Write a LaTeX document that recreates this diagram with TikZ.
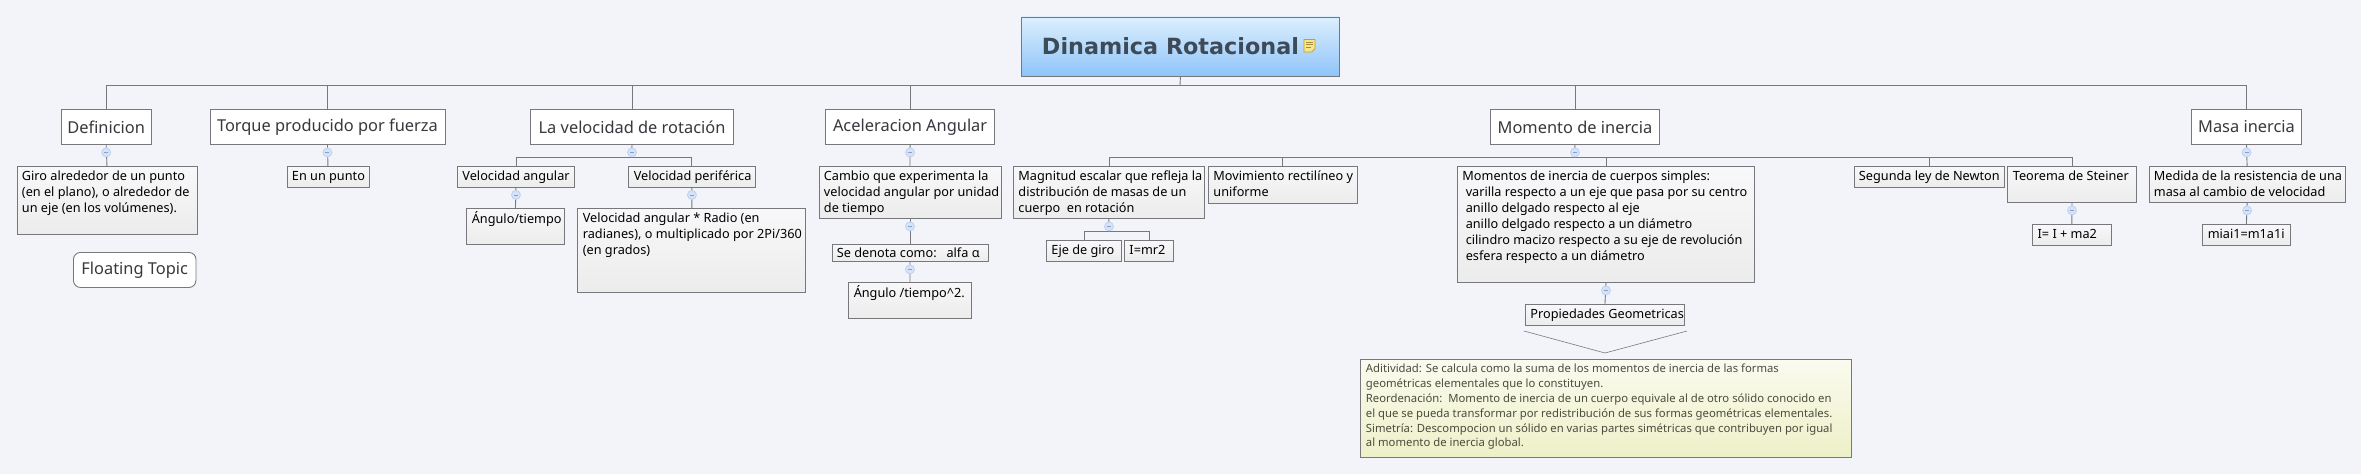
\documentclass[tikz,border=0pt]{standalone}
\usepackage{fontspec}
\setmainfont{Noto Sans}
\newfontfamily\rootfont{DejaVu Sans}
\definecolor{bgmap}{HTML}{F3F4F9}
\definecolor{linemap}{HTML}{77787C}
\definecolor{inktopic}{HTML}{36393D}
\definecolor{inkroot}{HTML}{3D4A58}
\definecolor{inknote}{HTML}{4A4B3C}
\definecolor{rootA}{HTML}{DDEFFD}
\definecolor{rootB}{HTML}{8FC4F9}
\definecolor{subA}{HTML}{F8F8FA}
\definecolor{subB}{HTML}{ECECEC}
\definecolor{noteA}{HTML}{FAFBEF}
\definecolor{noteB}{HTML}{EEF0C8}
\definecolor{markA}{HTML}{BDD2F2}
\definecolor{markB}{HTML}{D5E2F8}
\definecolor{markC}{HTML}{8AA0C0}
\definecolor{iconA}{HTML}{F6E68C}
\definecolor{iconB}{HTML}{C69A2E}
\definecolor{iconC}{HTML}{A98A3A}
\newcommand{\boxtxt}[3]{\parbox[c][#2pt][t]{\dimexpr#1pt-10pt\relax}{\vskip 3pt\raggedright\rightskip=-20pt plus 1fil\relax\strut #3\strut}}
\tikzset{
	rootbox/.style={draw=linemap,line width=.9pt,top color=rootA,bottom color=rootB,anchor=north west,inner sep=0pt,text=inkroot,font=\rootfont\fontsize{22.3}{28}\selectfont\bfseries},
	topicbox/.style={draw=linemap,line width=.9pt,fill=white,anchor=north west,inner sep=0pt,minimum height=35pt,text=inktopic,font=\fontsize{16.4}{18}\selectfont},
	floatbox/.style={topicbox,rounded corners=7pt},
	subbox/.style={draw=linemap,line width=.9pt,top color=subA,bottom color=subB,anchor=north west,inner xsep=5pt,inner ysep=0pt,text=black,font=\fontsize{12.7}{16}\selectfont},
	notebox/.style={subbox,top color=noteA,bottom color=noteB,text=inknote,inner xsep=5.5pt,font=\fontsize{11.3}{14.8}\selectfont},
	conn/.style={draw=linemap,line width=.9pt},
	collapse/.style={circle,draw=markA,fill=markB,line width=.8pt,minimum size=9pt,inner sep=0pt,
		path picture={\draw[markC,line width=.7pt] ([xshift=-2pt]path picture bounding box.center)--([xshift=2pt]path picture bounding box.center);}},
}
\begin{document}
\begin{tikzpicture}[x=1pt,y=-1pt]
	\useasboundingbox (0,0) rectangle (2361,474);
	\fill[bgmap] (0,0) rectangle (2361,474);
	% root and main topics
	\node[rootbox,minimum width=318pt,minimum height=59pt] (root) at (1021,16.5) {\hspace*{-20pt}Dinamica Rotacional};
	\coordinate (bus) at (1180,85);
	\node[topicbox,minimum width=89.5pt] (definicion) at (61,109) {Definicion};
	\node[topicbox,minimum width=235pt] (torque) at (209.5,109) {Torque producido por fuerza};
	\node[topicbox,minimum width=202.5pt] (velrot) at (530.3,109) {La velocidad de rotación};
	\node[topicbox,minimum width=168.5pt] (acel) at (825.4,109) {Aceleracion Angular};
	\node[topicbox,minimum width=169pt] (momento) at (1490,109) {Momento de inercia};
	\node[topicbox,minimum width=109.5pt] (masa) at (2191.3,109) {Masa inercia};
	\node[floatbox,minimum width=122.5pt] (flotante) at (73,252) {Floating Topic};
	% left branches
	\node[subbox] (giro) at (16.5,166) {\boxtxt{180}{68}{Giro alrededor de un punto\\(en el plano), o alrededor de\\un eje (en los volúmenes).}};
	\node[subbox] (punto) at (286.5,166) {\boxtxt{82}{20.5}{En un punto}};
	\node[subbox] (velang) at (457,166) {\boxtxt{117}{20.5}{Velocidad angular}};
	\node[subbox] (velper) at (628.3,166) {\boxtxt{126.3}{20.5}{Velocidad periférica}};
	\node[subbox] (angtiempo) at (466.4,208) {\boxtxt{97.2}{36}{Ángulo/tiempo}};
	\node[subbox] (radio) at (577.4,208) {\boxtxt{228}{84}{Velocidad angular * Radio (en\\radianes), o multiplicado por 2Pi/360\\(en grados)}};
	\node[subbox] (cambio) at (818.5,166) {\boxtxt{182}{52}{Cambio que experimenta la\\velocidad angular por unidad\\de tiempo}};
	\node[subbox] (denota) at (831.5,244) {\boxtxt{156}{17}{\raisebox{3pt}{Se denota como:~~~alfa α}}};
	\node[subbox] (angcuad) at (848.3,282) {\boxtxt{122.5}{36}{Ángulo /tiempo\textasciicircum 2.}};
	% momento de inercia
	\node[subbox] (magnitud) at (1013,166) {\boxtxt{191}{52}{Magnitud escalar que refleja la\\distribución de masas de un\\cuerpo~~en rotación}};
	\node[subbox] (rectilineo) at (1208,166) {\boxtxt{148.5}{36.5}{Movimiento rectilíneo y\\uniforme}};
	\node[subbox] (eje) at (1046,240) {\boxtxt{75}{20.5}{Eje de giro}};
	\node[subbox] (mr) at (1124,240) {\boxtxt{49}{20.5}{I=mr2}};
	\node[subbox] (simples) at (1457,166) {\boxtxt{297}{116}{Momentos de inercia de cuerpos simples:\\
		\ varilla respecto a un eje que pasa por su centro\\
		\ anillo delgado respecto al eje\\
		\ anillo delgado respecto a un diámetro\\
		\ cilindro macizo respecto a su eje de revolución\\
		\ esfera respecto a un diámetro}};
	\node[subbox] (propiedades) at (1525,304) {\boxtxt{159}{20.5}{Propiedades Geometricas}};
	\coordinate (vleft) at (1524,331);
	\coordinate (vtip) at (1605,353);
	\coordinate (vright) at (1687,331);
	\node[notebox] (nota) at (1360,359) {\boxtxt{490}{98}{Aditividad: Se calcula como la suma de los momentos de inercia de las formas\\
		geométricas elementales que lo constituyen.\\
		Reordenación:~~Momento de inercia de un cuerpo equivale al de otro sólido conocido en\\
		el que se pueda transformar por redistribución de sus formas geométricas elementales.\\
		Simetría: Descompocion un sólido en varias partes simétricas que contribuyen por igual\\
		al momento de inercia global.}};
	\node[subbox] (newton) at (1853.5,166) {\boxtxt{150}{20.5}{Segunda ley de Newton}};
	\node[subbox] (steiner) at (2007.4,166) {\boxtxt{128.3}{36}{Teorema de Steiner}};
	\node[subbox] (mad) at (2032.2,224) {\boxtxt{78.3}{20.5}{I= I + ma2}};
	\node[subbox] (medida) at (2148.5,166) {\boxtxt{196.3}{36}{Medida de la resistencia de una\\masa al cambio de velocidad}};
	\node[subbox] (miai) at (2202.3,224) {\boxtxt{87.3}{20.5}{miai1=m1a1i}};
	% connectors
	\draw[conn] (root.south) -- (bus);
	\foreach \topic in {definicion,torque,velrot,acel,momento,masa}
		\draw[conn] (bus) -| (\topic.north);
	\foreach \upper/\lower in {definicion/giro,torque/punto,acel/cambio,cambio/denota,denota/angcuad,velang/angtiempo,velper/radio,steiner/mad,masa/medida,medida/miai,simples/propiedades}
		\draw[conn] (\upper.south) -- (\lower.north);
	\coordinate (busvel) at (631.5,157.5);
	\draw[conn] (velrot.south) -- (busvel);
	\foreach \lower in {velang,velper}
		\draw[conn] (busvel) -| (\lower.north);
	\coordinate (busmom) at (1574.5,157.5);
	\draw[conn] (momento.south) -- (busmom);
	\foreach \lower in {magnitud,rectilineo,simples,newton,steiner}
		\draw[conn] (busmom) -| (\lower.north);
	\coordinate (busmag) at (1108.5,231);
	\draw[conn] (magnitud.south) -- (busmag);
	\foreach \lower in {eje,mr}
		\draw[conn] (busmag) -| (\lower.north);
	\draw[conn,line width=.6pt] (vleft) -- (vtip) -- (vright);
	% collapse markers
	\foreach \parent in {definicion,torque,velrot,acel,momento,masa,velang,velper,cambio,denota,magnitud,simples,steiner,medida}
		\node[collapse] (m\parent) at ([yshift=-7.5pt]\parent.south) {};
	% note icon
	\fill[iconA,draw=iconB,line width=.7pt] (1304,39.5) -- (1315,39.5) -- (1315,48.5) -- (1311.5,52) -- (1304,52) -- cycle;
	\draw[iconC,line width=.5pt] (1306,42) -- (1313,42) (1306,44.5) -- (1313,44.5) (1306,47) -- (1311,47);
\end{tikzpicture}
\end{document}
